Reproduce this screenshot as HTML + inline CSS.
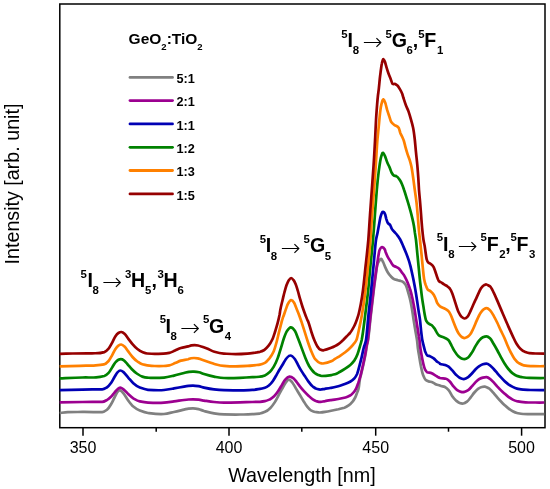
<!DOCTYPE html>
<html><head><meta charset="utf-8"><title>PL spectra</title>
<style>html,body{margin:0;padding:0;background:#fff;}svg{display:block;}text{font-family:"Liberation Sans",Arial,sans-serif;fill:#000;}.b{font-weight:bold;}.ar{font-family:"DejaVu Sans Light","DejaVu Sans","Liberation Sans",sans-serif;font-weight:200;}</style></head><body>
<svg width="550" height="489" viewBox="0 0 550 489">
<rect width="550" height="489" fill="#fff"/>
<rect x="59.8" y="4" width="485.2" height="423.7" fill="none" stroke="#000" stroke-width="1.5"/>
<g fill="none" stroke-width="2.7" stroke-linejoin="round" stroke-linecap="butt">
<path stroke="#808080" d="M59.7,413.0C62.4,412.7 65.1,412.3 67.8,412.2C72.7,412.0 77.6,412.0 82.5,411.9C89.1,411.8 95.6,412.2 102.2,412.2C103.8,412.2 105.5,410.9 107.1,409.7C108.5,408.7 109.8,406.3 111.2,404.0C112.3,402.2 113.4,399.6 114.5,397.5C115.6,395.5 116.6,393.0 117.7,391.7C118.4,390.8 119.2,389.9 119.9,390.1C121.1,390.4 122.3,391.9 123.5,393.4C125.1,395.4 126.8,398.5 128.4,400.7C130.0,402.9 131.7,405.2 133.3,406.5C135.5,408.3 137.6,409.8 139.8,410.6C142.5,411.6 145.3,412.6 148.0,413.0C153.3,413.7 158.7,414.5 164.0,414.0C167.3,413.7 170.7,412.7 174.0,412.0C177.3,411.3 180.7,410.4 184.0,409.6C185.5,409.3 187.0,408.8 188.5,408.6C190.0,408.4 191.5,408.4 193.0,408.4C194.8,408.4 196.7,408.7 198.5,409.1C200.3,409.5 202.2,410.5 204.0,411.0C207.3,411.9 210.7,412.9 214.0,413.4C217.3,413.9 220.7,414.3 224.0,414.4C229.3,414.5 234.7,414.6 240.0,414.5C244.1,414.5 248.2,414.3 252.3,414.2C254.9,414.1 257.4,413.8 260.0,413.5C261.8,413.3 263.7,412.4 265.5,411.6C267.1,410.9 268.8,409.4 270.4,407.9C271.8,406.6 273.3,404.6 274.7,402.4C275.9,400.5 277.2,398.0 278.4,395.7C279.6,393.4 280.9,391.1 282.1,388.9C283.2,386.9 284.4,384.6 285.5,383.0C286.6,381.5 287.7,379.8 288.8,379.7C290.0,379.6 291.3,381.2 292.5,382.8C293.7,384.4 295.0,386.9 296.2,388.9C297.4,390.9 298.7,393.0 299.9,395.0C301.1,397.0 302.4,399.2 303.6,401.2C304.8,403.1 306.0,405.2 307.2,406.7C308.4,408.2 309.7,409.8 310.9,410.4C312.3,411.1 313.8,411.8 315.2,412.0C316.8,412.2 318.4,412.6 320.0,412.5C321.7,412.4 323.3,412.2 325.0,411.9C327.0,411.6 329.1,411.2 331.1,410.8C333.5,410.3 335.9,409.8 338.3,409.3C340.3,408.8 342.4,408.3 344.4,407.7C345.9,407.2 347.5,406.2 349.0,405.2C350.2,404.4 351.4,403.0 352.6,401.6C353.5,400.6 354.3,399.2 355.2,397.5C355.9,396.2 356.5,394.1 357.2,392.4C357.6,391.3 358.1,390.6 358.5,389.0C359.0,387.2 359.5,380.9 360.0,378.5C360.3,376.9 360.7,376.2 361.0,374.8C361.8,371.5 362.6,368.1 363.4,364.5C364.1,361.3 364.8,358.1 365.5,354.3C366.0,351.6 366.5,347.9 367.0,345.1C367.4,343.1 367.7,342.4 368.1,340.0C369.0,334.1 369.9,323.5 370.8,315.6C371.8,306.8 372.8,298.0 373.8,290.0C374.4,285.0 375.1,280.3 375.7,275.8C376.2,272.0 376.8,266.9 377.3,265.0C377.8,263.2 378.3,262.2 378.8,261.5C379.6,260.4 380.3,258.7 381.1,258.9C381.8,259.1 382.4,260.7 383.1,262.0C383.8,263.4 384.5,265.5 385.2,267.1C386.0,268.9 386.9,270.9 387.7,272.2C388.7,273.8 389.8,275.3 390.8,276.3C391.8,277.3 392.9,278.5 393.9,278.9C395.2,279.5 396.6,279.8 397.9,280.2C398.9,280.5 400.0,280.7 401.0,281.0C401.4,281.1 401.8,281.2 402.2,281.4C403.0,281.7 403.9,282.6 404.7,283.5C405.2,284.0 405.7,284.9 406.2,286.0C406.6,286.9 407.1,288.6 407.5,290.0C408.3,292.5 409.0,295.1 409.8,298.2C410.5,301.0 411.2,304.4 411.9,308.4C412.4,311.3 412.9,315.4 413.4,318.6C413.9,321.8 414.4,324.8 414.9,327.8C415.4,331.0 416.0,333.9 416.5,337.0C416.7,338.0 416.8,338.8 417.0,340.0C417.3,342.1 417.6,346.0 417.9,348.2C418.4,351.8 418.9,354.5 419.4,357.4C419.9,360.5 420.5,364.0 421.0,366.6C421.7,369.8 422.3,373.1 423.0,374.8C423.9,377.0 424.7,379.3 425.6,379.9C426.6,380.6 427.6,381.1 428.6,381.4C430.0,381.8 431.3,381.9 432.7,382.4C433.9,382.9 435.1,383.9 436.3,384.5C437.5,385.1 438.7,384.9 439.9,385.5C439.9,385.5 440.0,385.6 440.0,385.6C441.6,386.6 443.3,386.2 444.9,387.0C446.1,387.6 447.4,388.7 448.6,390.1C449.8,391.5 451.1,394.5 452.3,396.2C453.5,397.9 454.8,399.4 456.0,400.5C457.2,401.5 458.4,402.6 459.6,403.0C460.8,403.4 462.1,403.6 463.3,403.5C464.5,403.4 465.8,402.6 467.0,401.7C468.2,400.8 469.5,398.9 470.7,397.4C471.9,395.9 473.2,393.9 474.4,392.5C475.6,391.1 476.8,389.7 478.0,388.9C479.2,388.1 480.5,387.3 481.7,387.0C482.7,386.7 483.8,386.5 484.8,386.6C486.0,386.8 487.3,387.6 488.5,388.2C489.0,388.5 489.5,388.8 490.0,389.2C491.2,390.2 492.5,391.8 493.7,393.2C494.9,394.6 496.2,396.2 497.4,397.6C498.6,399.0 499.8,400.3 501.0,401.5C502.2,402.8 503.5,404.1 504.7,405.2C505.9,406.3 507.2,407.5 508.4,408.4C509.8,409.5 511.3,410.6 512.7,411.3C514.1,412.0 515.6,412.7 517.0,413.0C519.0,413.4 521.1,413.9 523.1,414.0C525.6,414.1 528.0,414.2 530.5,414.2C535.1,414.2 539.7,414.2 544.3,414.2"/>
<path stroke="#9c0090" d="M59.7,402.4C67.3,402.2 74.9,402.1 82.5,402.0C89.1,401.9 95.6,402.0 102.2,401.9C103.8,401.9 105.5,400.8 107.1,399.9C108.5,399.2 109.8,397.9 111.2,396.6C112.3,395.5 113.4,393.9 114.5,392.6C115.6,391.4 116.6,389.9 117.7,389.0C118.5,388.3 119.4,387.6 120.2,387.6C121.3,387.6 122.4,388.5 123.5,389.3C125.1,390.5 126.8,392.7 128.4,394.2C130.0,395.7 131.7,397.3 133.3,398.3C135.5,399.6 137.6,401.0 139.8,401.4C142.5,402.0 145.3,402.5 148.0,402.6C153.3,402.8 158.7,403.0 164.0,402.6C167.3,402.4 170.7,401.8 174.0,401.4C177.3,401.0 180.7,400.4 184.0,400.0C185.5,399.8 187.0,399.6 188.5,399.5C190.0,399.4 191.5,399.4 193.0,399.4C194.8,399.4 196.7,399.5 198.5,399.7C200.3,399.9 202.2,400.3 204.0,400.6C207.3,401.1 210.7,401.7 214.0,402.0C217.3,402.3 220.7,402.6 224.0,402.6C229.3,402.6 234.7,402.5 240.0,402.4C244.1,402.3 248.2,402.1 252.3,402.0C254.9,401.9 257.4,401.9 260.0,401.8C261.6,401.7 263.3,401.5 264.9,401.2C266.5,400.9 268.2,400.1 269.8,399.4C271.2,398.8 272.7,397.6 274.1,396.3C275.5,395.0 277.0,392.9 278.4,390.8C279.6,389.0 280.9,386.6 282.1,384.6C283.1,382.9 284.2,380.8 285.2,379.7C286.5,378.2 287.9,376.8 289.2,376.7C290.7,376.5 292.2,377.3 293.7,378.5C294.7,379.3 295.8,380.9 296.8,382.2C298.0,383.8 299.3,385.6 300.5,387.1C301.7,388.6 303.0,390.1 304.2,391.4C305.6,392.9 307.1,394.4 308.5,395.7C309.9,397.0 311.4,398.5 312.8,399.4C314.0,400.2 315.2,400.9 316.4,401.2C317.9,401.6 319.3,402.1 320.8,401.9C322.2,401.7 323.6,401.3 325.0,401.1C327.0,400.7 329.1,400.4 331.1,400.1C333.5,399.7 335.9,399.4 338.3,399.0C340.7,398.6 343.1,398.1 345.5,397.5C347.0,397.1 348.6,396.3 350.1,395.5C351.3,394.9 352.4,393.6 353.6,392.4C354.5,391.5 355.3,390.0 356.2,388.3C356.9,387.0 357.5,385.1 358.2,383.2C358.7,381.7 359.3,379.9 359.8,378.1C360.1,377.1 360.4,376.0 360.7,374.8C361.5,371.7 362.3,368.1 363.1,364.5C363.8,361.3 364.5,358.1 365.2,354.3C365.7,351.6 366.2,347.9 366.7,345.1C367.1,343.1 367.4,342.4 367.8,340.0C368.7,334.1 369.6,323.5 370.5,315.6C371.5,306.8 372.5,298.0 373.5,290.0C374.1,285.0 374.8,280.3 375.4,275.8C375.9,272.0 376.5,268.6 377.0,265.0C377.3,262.8 377.7,260.4 378.0,258.4C378.5,255.4 379.0,251.3 379.5,250.2C380.4,248.3 381.2,247.1 382.1,247.2C383.0,247.3 383.8,247.8 384.7,249.2C385.0,249.7 385.4,251.4 385.7,252.3C386.4,254.0 387.0,255.7 387.7,256.9C388.6,258.5 389.4,259.7 390.3,261.0C391.3,262.6 392.3,264.8 393.3,265.6C394.2,266.3 395.0,266.3 395.9,266.8C396.9,267.3 398.0,267.7 399.0,268.6C400.0,269.4 401.0,271.4 402.0,272.7C402.6,273.4 403.1,274.0 403.7,274.8C404.4,275.8 405.0,277.0 405.7,278.3C406.4,279.6 407.1,281.2 407.8,282.9C408.3,284.1 408.8,285.6 409.3,287.0C409.6,287.9 410.0,288.9 410.3,290.0C411.0,292.3 411.7,295.1 412.4,298.2C413.1,301.1 413.7,304.6 414.4,308.4C414.9,311.4 415.5,315.3 416.0,318.6C416.5,321.7 417.0,324.7 417.5,327.8C418.0,330.9 418.5,334.0 419.0,337.0C419.2,338.0 419.3,338.8 419.5,340.0C419.8,342.1 420.1,346.1 420.4,348.2C420.9,351.9 421.5,354.7 422.0,357.4C422.5,359.9 423.0,362.6 423.5,364.5C424.0,366.6 424.6,368.8 425.1,369.7C425.8,370.9 426.4,371.9 427.1,372.2C428.6,372.8 430.2,372.5 431.7,373.2C432.9,373.8 434.1,374.6 435.3,375.3C436.3,375.9 437.3,376.8 438.3,377.3C438.9,377.6 439.4,377.8 440.0,378.0C442.0,378.6 444.1,378.2 446.1,378.8C447.3,379.1 448.6,380.3 449.8,381.5C451.0,382.7 452.3,385.0 453.5,386.4C454.7,387.8 456.0,389.3 457.2,390.1C458.4,390.9 459.7,391.7 460.9,391.9C462.1,392.1 463.3,392.1 464.5,391.9C465.7,391.7 467.0,390.9 468.2,390.1C469.4,389.3 470.7,387.7 471.9,386.4C473.1,385.1 474.4,383.3 475.6,382.1C476.8,380.9 478.1,379.6 479.3,379.0C480.5,378.4 481.7,377.9 482.9,377.6C484.1,377.3 485.4,377.0 486.6,377.1C487.7,377.2 488.9,378.0 490.0,378.8C491.2,379.6 492.5,381.0 493.7,382.3C494.9,383.6 496.2,385.2 497.4,386.6C498.6,387.9 499.8,389.2 501.0,390.4C502.2,391.6 503.5,392.6 504.7,393.7C505.9,394.8 507.2,396.0 508.4,396.9C509.8,398.0 511.3,398.9 512.7,399.6C514.1,400.3 515.6,400.9 517.0,401.2C519.0,401.6 521.1,402.1 523.1,402.2C525.6,402.3 528.0,402.5 530.5,402.5C535.1,402.5 539.7,402.6 544.3,402.5"/>
<path stroke="#0000b4" d="M59.7,390.1C67.3,389.9 74.9,389.8 82.5,389.6C89.1,389.5 95.6,389.4 102.2,389.3C103.8,389.3 105.5,388.2 107.1,387.3C108.5,386.5 109.8,384.6 111.2,382.7C112.3,381.2 113.4,378.8 114.5,377.0C115.6,375.3 116.6,373.2 117.7,372.1C118.5,371.3 119.4,370.5 120.2,370.5C121.3,370.5 122.4,371.2 123.5,372.1C125.1,373.4 126.8,376.0 128.4,377.8C130.0,379.6 131.7,381.8 133.3,383.2C135.5,385.1 137.6,386.8 139.8,387.6C142.5,388.6 145.3,389.6 148.0,389.8C153.3,390.2 158.7,390.6 164.0,390.0C167.3,389.7 170.7,389.0 174.0,388.4C177.3,387.8 180.7,387.2 184.0,386.6C185.5,386.3 187.0,386.0 188.5,385.8C190.0,385.6 191.5,385.6 193.0,385.6C194.8,385.6 196.7,385.9 198.5,386.2C200.3,386.5 202.2,387.2 204.0,387.6C207.3,388.3 210.7,389.0 214.0,389.4C217.3,389.8 220.7,390.1 224.0,390.2C229.3,390.3 234.7,390.4 240.0,390.4C244.1,390.4 248.2,390.1 252.3,389.9C254.9,389.8 257.4,389.3 260.0,388.9C261.6,388.7 263.3,388.2 264.9,387.7C266.3,387.3 267.8,386.3 269.2,385.2C270.4,384.3 271.7,382.7 272.9,381.0C274.1,379.3 275.4,376.9 276.6,374.8C277.6,373.1 278.6,371.2 279.6,369.5C280.6,367.8 281.7,366.2 282.7,364.5C283.7,362.8 284.8,360.5 285.8,359.2C287.2,357.4 288.7,355.6 290.1,355.5C291.7,355.3 293.4,357.1 295.0,359.2C296.0,360.5 297.0,363.0 298.0,364.8C299.1,366.9 300.3,369.1 301.4,370.9C302.5,372.7 303.7,374.3 304.8,376.0C306.0,377.9 307.3,380.0 308.5,381.6C309.9,383.5 311.4,385.4 312.8,386.5C314.0,387.4 315.2,388.4 316.4,388.7C317.9,389.1 319.3,389.7 320.8,389.5C322.2,389.3 323.6,389.0 325.0,388.8C327.0,388.5 329.1,388.2 331.1,387.8C333.5,387.4 335.9,386.8 338.3,386.2C340.7,385.6 343.1,384.6 345.5,383.7C347.2,383.1 348.8,382.4 350.5,381.5C351.8,380.8 353.2,379.5 354.5,378.2C355.4,377.4 356.2,375.9 357.1,374.0C357.9,372.2 358.7,368.6 359.5,365.6C360.2,363.0 360.9,360.3 361.6,357.4C362.3,354.6 362.9,351.1 363.6,348.2C364.4,344.8 365.2,344.5 366.0,340.0C366.8,335.5 367.6,323.3 368.4,315.6C369.3,306.6 370.3,299.1 371.2,290.0C372.0,282.2 372.8,273.3 373.6,265.0C374.4,256.7 375.2,245.4 376.0,240.0C376.5,236.6 377.0,235.6 377.5,233.0C378.0,230.4 378.5,227.5 379.0,224.8C379.5,222.0 380.1,218.4 380.6,216.6C381.3,214.3 381.9,212.4 382.6,212.0C383.5,211.5 384.3,212.4 385.2,214.5C385.5,215.3 385.9,217.5 386.2,218.6C386.7,220.2 387.2,221.9 387.7,222.7C388.6,224.2 389.4,223.8 390.3,225.3C390.8,226.2 391.3,228.1 391.8,228.9C392.5,230.0 393.2,230.6 393.9,231.4C394.9,232.6 396.0,233.5 397.0,234.8C398.1,236.1 399.1,237.6 400.2,239.5C401.2,241.3 402.2,243.8 403.2,246.1C404.2,248.4 405.2,250.8 406.2,253.3C407.1,255.5 407.9,257.8 408.8,260.4C409.5,262.4 410.1,264.9 410.8,267.6C411.3,269.7 411.9,272.3 412.4,274.8C412.9,277.1 413.4,279.4 413.9,281.9C414.4,284.4 414.9,287.1 415.4,290.0C415.9,293.1 416.5,296.7 417.0,300.2C417.5,303.5 418.0,307.1 418.5,310.4C419.0,314.0 419.6,316.5 420.1,320.7C420.4,323.3 420.8,328.0 421.1,330.9C421.5,334.4 421.9,337.9 422.3,340.0C422.7,342.1 423.1,343.5 423.5,345.1C424.0,347.2 424.6,349.7 425.1,351.2C425.8,353.0 426.4,354.9 427.1,355.3C428.1,355.9 429.2,355.9 430.2,356.4C431.4,357.0 432.5,357.6 433.7,358.4C434.7,359.2 435.8,360.5 436.8,361.5C437.8,362.5 438.9,362.3 439.9,363.5C439.9,363.5 440.0,363.8 440.0,363.8C441.6,364.8 443.3,364.2 444.9,364.9C446.1,365.4 447.4,365.9 448.6,366.7C449.8,367.5 451.1,369.1 452.3,370.4C453.5,371.7 454.8,373.5 456.0,374.7C457.2,375.9 458.4,377.2 459.6,377.8C461.0,378.5 462.5,379.2 463.9,379.1C465.3,379.0 466.8,378.1 468.2,377.1C469.4,376.3 470.7,374.8 471.9,373.5C473.1,372.2 474.4,370.4 475.6,369.2C476.8,368.0 478.1,366.9 479.3,366.1C480.5,365.4 481.7,364.7 482.9,364.3C484.1,363.9 485.2,363.7 486.4,363.7C487.6,363.7 488.8,364.5 490.0,365.3C491.2,366.1 492.5,367.7 493.7,369.0C494.9,370.3 496.2,371.9 497.4,373.3C498.6,374.7 499.8,376.0 501.0,377.3C502.2,378.6 503.5,380.0 504.7,381.2C505.9,382.4 507.2,383.4 508.4,384.3C509.8,385.3 511.3,386.2 512.7,386.9C514.1,387.6 515.6,388.3 517.0,388.6C519.0,389.0 521.1,389.5 523.1,389.6C525.6,389.8 528.0,390.0 530.5,390.0C535.1,390.1 539.7,390.2 544.3,390.1"/>
<path stroke="#008200" d="M59.7,378.3C67.3,378.0 74.9,377.6 82.5,377.5C85.7,377.4 88.8,377.5 92.0,377.5C94.0,377.5 96.1,377.3 98.1,377.2C100.2,377.1 102.2,376.5 104.3,376.0C105.7,375.6 107.2,374.4 108.6,372.9C109.8,371.7 111.0,369.3 112.2,367.4C113.2,365.8 114.3,363.7 115.3,362.5C116.3,361.3 117.4,360.3 118.4,359.8C119.2,359.4 120.0,359.1 120.8,359.1C121.8,359.1 122.9,359.6 123.9,360.3C125.1,361.1 126.4,362.9 127.6,364.3C129.0,365.9 130.5,367.8 131.9,369.2C133.5,370.8 135.2,372.4 136.8,373.5C138.6,374.7 140.5,376.1 142.3,376.6C143.9,377.1 145.6,377.5 147.2,377.6C148.8,377.7 150.4,377.9 152.0,377.9C156.0,378.0 160.0,377.9 164.0,377.6C167.3,377.4 170.7,376.4 174.0,375.6C177.3,374.8 180.7,373.8 184.0,373.0C185.7,372.6 187.3,372.0 189.0,371.8C190.7,371.6 192.3,371.5 194.0,371.6C195.7,371.7 197.3,371.9 199.0,372.3C200.7,372.7 202.3,373.5 204.0,374.0C207.3,375.0 210.7,376.0 214.0,376.6C217.3,377.2 220.7,378.0 224.0,378.0C229.3,378.1 234.7,378.0 240.0,377.8C244.1,377.6 248.2,377.4 252.3,377.2C254.9,377.1 257.4,376.9 260.0,376.7C261.6,376.6 263.3,376.0 264.9,375.4C266.5,374.8 268.2,373.3 269.8,371.9C271.1,370.7 272.5,368.7 273.8,366.6C275.1,364.5 276.5,361.4 277.8,357.9C278.8,355.2 279.9,351.4 280.9,348.1C281.9,344.9 282.9,341.1 283.9,338.3C284.9,335.4 286.0,332.5 287.0,331.0C288.2,329.2 289.5,327.4 290.7,327.3C292.1,327.2 293.6,328.8 295.0,331.0C296.0,332.5 297.0,335.7 298.0,338.3C299.2,341.4 300.5,344.8 301.7,348.1C302.9,351.4 304.2,354.9 305.4,357.9C306.6,360.9 307.9,363.9 309.1,366.0C310.2,367.8 311.2,369.3 312.3,370.5C313.1,371.4 314.0,372.4 314.8,373.0C315.8,373.7 316.7,374.4 317.7,374.8C319.0,375.3 320.4,376.0 321.7,376.0C325.1,376.0 328.4,375.5 331.8,375.0C332.9,374.8 333.9,374.6 335.0,374.3C336.7,373.8 338.4,372.6 340.1,371.7C341.8,370.8 343.5,369.7 345.2,368.6C346.9,367.5 348.6,366.4 350.3,365.0C351.7,363.9 353.0,362.2 354.4,360.4C355.4,359.0 356.5,356.9 357.5,354.3C358.3,352.2 359.2,348.9 360.0,346.1C360.6,344.2 361.1,342.6 361.7,340.0C362.8,334.7 364.0,324.3 365.1,315.6C366.1,307.7 367.2,299.7 368.2,290.0C369.0,282.8 369.7,273.0 370.5,265.0C371.3,256.3 372.2,249.5 373.0,240.0C373.6,232.7 374.3,223.3 374.9,215.0C375.5,206.7 376.2,197.3 376.8,190.0C377.3,184.6 377.7,179.8 378.2,175.8C378.6,172.4 379.0,169.2 379.4,166.6C379.9,163.1 380.5,159.2 381.0,157.4C381.7,155.1 382.3,152.5 383.0,152.8C383.7,153.1 384.4,154.8 385.1,156.4C385.8,158.0 386.4,160.4 387.1,162.0C388.0,164.1 388.8,165.6 389.7,167.6C390.4,169.2 391.0,171.5 391.7,172.7C392.4,173.9 393.0,174.8 393.7,175.3C394.7,176.0 395.8,175.8 396.8,176.5C397.7,177.1 398.5,178.2 399.4,179.4C400.2,180.5 401.1,182.2 401.9,184.0C402.6,185.6 403.4,187.8 404.1,190.0C405.2,193.1 406.2,196.7 407.3,200.2C408.3,203.5 409.3,206.8 410.3,210.4C411.0,212.9 411.7,215.7 412.4,218.6C412.9,220.7 413.4,222.9 413.9,225.8C414.2,227.7 414.6,230.6 414.9,232.9C415.3,235.4 415.6,237.1 416.0,240.0C416.3,242.7 416.7,246.8 417.0,250.2C417.3,253.6 417.7,257.0 418.0,260.4C418.3,263.8 418.7,267.3 419.0,270.7C419.3,274.1 419.7,277.9 420.0,280.9C420.4,284.2 420.7,287.0 421.1,290.0C421.4,292.7 421.8,295.8 422.1,298.2C422.5,301.3 423.0,303.7 423.4,306.4C423.8,309.1 424.3,312.3 424.7,314.5C425.2,317.1 425.7,319.9 426.2,320.7C427.1,322.1 427.9,323.1 428.8,323.7C429.8,324.4 430.8,324.5 431.8,325.3C432.7,326.0 433.5,327.1 434.4,328.3C435.1,329.3 435.7,330.8 436.4,331.9C437.1,333.0 437.8,334.4 438.5,335.0C439.0,335.5 439.5,335.8 440.0,336.0C441.6,336.8 443.3,337.2 444.9,337.9C446.1,338.5 447.4,339.1 448.6,340.3C449.6,341.3 450.7,344.0 451.7,345.9C452.7,347.7 453.7,349.8 454.7,351.4C455.9,353.3 457.2,355.2 458.4,356.3C459.4,357.2 460.5,358.1 461.5,358.5C462.5,358.9 463.5,359.2 464.5,359.2C465.7,359.2 467.0,358.4 468.2,357.5C469.4,356.6 470.7,354.5 471.9,352.6C473.1,350.7 474.4,347.9 475.6,345.9C476.8,343.9 478.1,341.6 479.3,340.3C480.5,339.0 481.7,337.9 482.9,337.3C484.1,336.7 485.4,336.3 486.6,336.3C487.7,336.3 488.9,337.3 490.0,338.3C491.2,339.4 492.5,342.0 493.7,344.0C494.9,346.0 496.2,348.3 497.4,350.5C498.6,352.7 499.8,355.1 501.0,357.3C502.2,359.5 503.5,361.9 504.7,363.8C505.9,365.7 507.2,367.6 508.4,369.0C509.8,370.7 511.3,372.4 512.7,373.4C514.1,374.4 515.6,375.4 517.0,375.9C518.6,376.4 520.3,377.0 521.9,377.2C524.4,377.5 526.8,377.8 529.3,377.9C534.3,378.0 539.3,378.1 544.3,378.0"/>
<path stroke="#ff8000" d="M59.7,366.3C66.5,366.1 73.2,366.0 80.0,365.8C84.0,365.7 88.0,365.7 92.0,365.6C94.0,365.6 96.1,365.3 98.1,365.2C100.2,365.1 102.2,364.7 104.3,364.3C105.7,364.0 107.2,362.5 108.6,361.0C109.8,359.7 111.0,357.2 112.2,355.1C113.2,353.3 114.3,350.7 115.3,349.2C116.3,347.7 117.4,346.3 118.4,345.6C119.3,345.0 120.3,344.4 121.2,344.5C122.3,344.6 123.4,345.5 124.5,346.5C125.7,347.6 127.0,349.8 128.2,351.4C129.6,353.3 131.1,355.4 132.5,357.0C134.1,358.8 135.8,360.4 137.4,361.5C139.0,362.6 140.7,363.9 142.3,364.3C143.9,364.7 145.6,365.1 147.2,365.3C149.7,365.6 152.2,365.9 154.7,366.0C157.6,366.1 160.6,366.1 163.5,366.0C165.4,366.0 167.4,365.7 169.3,365.4C171.2,365.1 173.2,363.9 175.1,363.1C177.0,362.3 179.0,361.2 180.9,360.6C183.3,359.9 185.8,359.8 188.2,359.2C189.2,358.9 190.1,358.5 191.1,358.3C192.1,358.1 193.0,358.0 194.0,358.0C195.2,358.0 196.5,358.1 197.7,358.3C198.9,358.5 200.1,359.1 201.3,359.5C204.2,360.5 207.1,361.5 210.0,362.5C211.5,363.0 212.9,363.6 214.4,364.0C217.5,364.8 220.7,365.7 223.8,365.9C227.7,366.2 231.7,366.5 235.6,366.4C239.5,366.3 243.5,366.1 247.4,365.9C250.5,365.7 253.7,365.3 256.8,365.0C257.9,364.9 258.9,364.8 260.0,364.6C261.6,364.4 263.3,363.7 264.9,362.9C266.5,362.1 268.2,359.8 269.8,357.9C271.0,356.4 272.3,354.4 273.5,351.8C274.5,349.6 275.6,345.7 276.6,342.0C277.4,339.1 278.2,335.4 279.0,332.2C279.8,328.9 280.7,325.5 281.5,322.4C281.9,321.0 282.2,319.6 282.6,318.5C283.0,317.2 283.5,316.2 283.9,315.0C284.6,313.0 285.3,310.8 286.0,308.9C286.7,307.1 287.3,304.9 288.0,303.7C289.0,301.9 290.1,300.3 291.1,300.2C292.1,300.1 293.1,301.1 294.1,302.7C294.8,303.8 295.5,306.1 296.2,307.8C297.0,309.8 297.9,311.8 298.7,314.0C299.3,315.6 299.9,317.3 300.5,319.0C300.9,320.1 301.3,321.2 301.7,322.4C302.7,325.5 303.8,328.9 304.8,332.2C305.8,335.5 306.9,339.0 307.9,342.0C309.1,345.5 310.3,349.0 311.5,351.8C312.7,354.7 314.0,357.8 315.2,359.2C316.8,361.0 318.4,362.6 320.0,363.0C321.0,363.3 322.0,363.6 323.0,363.5C325.9,363.2 328.9,362.3 331.8,361.0C332.9,360.5 333.9,359.6 335.0,358.9C336.7,357.8 338.4,356.9 340.1,355.8C341.8,354.7 343.5,353.6 345.2,352.3C346.9,351.0 348.6,349.4 350.3,347.7C351.7,346.4 353.0,344.7 354.4,343.1C355.1,342.3 355.7,341.5 356.4,340.0C357.4,337.9 358.3,332.3 359.3,328.0C360.1,324.3 361.0,320.3 361.8,315.6C363.0,308.7 364.3,299.9 365.5,290.0C366.4,283.1 367.2,273.8 368.1,265.0C368.9,257.2 369.6,249.6 370.4,240.0C371.0,232.9 371.5,222.9 372.1,215.0C372.7,206.2 373.4,198.6 374.0,190.0C374.6,181.9 375.2,173.8 375.8,165.0C376.3,157.2 376.9,146.5 377.4,140.0C377.6,137.1 377.9,135.3 378.1,132.9C378.4,129.5 378.8,126.1 379.1,122.7C379.4,119.3 379.8,115.1 380.1,112.4C380.5,108.9 381.0,105.8 381.4,104.3C382.1,102.0 382.7,99.2 383.4,99.4C384.1,99.6 384.7,101.3 385.4,103.2C385.9,104.8 386.5,107.6 387.0,109.4C387.7,111.6 388.3,113.5 389.0,115.5C389.7,117.6 390.4,120.6 391.1,121.7C392.1,123.2 393.1,123.9 394.1,124.7C395.6,126.0 397.2,125.9 398.7,127.8C399.2,128.5 399.8,131.6 400.3,132.9C401.0,134.6 401.6,135.5 402.3,137.0C402.8,138.2 403.4,139.4 403.9,141.0C404.3,142.3 404.8,144.5 405.2,146.1C405.9,148.7 406.6,151.1 407.3,153.3C408.1,155.9 409.0,157.7 409.8,160.4C410.3,162.1 410.9,164.1 411.4,166.6C411.8,168.4 412.2,171.1 412.6,173.7C412.9,175.9 413.3,178.4 413.6,180.9C414.0,183.9 414.4,187.0 414.8,190.0C415.4,194.2 415.9,197.5 416.5,202.3C416.9,205.7 417.3,210.4 417.7,215.0C418.0,218.9 418.4,224.2 418.7,227.8C419.1,232.5 419.6,236.0 420.0,240.0C420.4,243.4 420.7,246.6 421.1,250.2C421.4,253.4 421.8,257.0 422.1,260.4C422.4,263.8 422.8,267.6 423.1,270.7C423.4,273.8 423.8,277.2 424.1,278.9C424.6,281.6 425.2,283.6 425.7,285.0C426.4,286.7 427.0,288.8 427.7,289.5C428.7,290.5 429.8,290.6 430.8,291.5C431.6,292.2 432.5,293.0 433.3,294.1C434.0,295.0 434.7,296.7 435.4,298.2C436.1,299.7 436.7,302.2 437.4,303.3C438.3,304.7 439.1,305.8 440.0,306.3C441.6,307.3 443.3,307.8 444.9,308.7C446.1,309.4 447.4,310.1 448.6,311.2C449.4,311.9 450.2,313.8 451.0,315.5C451.8,317.3 452.7,319.9 453.5,322.0C454.5,324.6 455.6,327.4 456.6,329.6C457.4,331.3 458.2,332.9 459.0,334.0C459.9,335.2 460.9,336.5 461.8,337.0C462.7,337.5 463.6,338.1 464.5,338.1C465.4,338.1 466.4,337.5 467.3,337.0C468.2,336.5 469.2,335.6 470.1,334.5C471.1,333.3 472.1,331.1 473.1,329.0C474.3,326.4 475.6,323.1 476.8,320.4C478.0,317.7 479.3,314.8 480.5,313.0C481.5,311.5 482.6,310.1 483.6,309.4C484.6,308.8 485.6,308.2 486.6,308.2C487.7,308.2 488.9,309.2 490.0,310.2C491.2,311.3 492.5,313.7 493.7,315.8C494.9,317.9 496.2,320.5 497.4,323.0C498.6,325.5 499.8,328.4 501.0,330.9C502.0,333.0 503.0,334.8 504.0,337.0C505.1,339.4 506.1,342.3 507.2,344.7C508.4,347.5 509.7,350.4 510.9,352.7C512.1,355.0 513.3,357.3 514.5,358.8C515.9,360.6 517.4,362.3 518.8,363.1C520.4,364.0 522.1,365.0 523.7,365.3C526.0,365.7 528.2,366.0 530.5,366.1C535.1,366.2 539.7,366.4 544.3,366.2"/>
<path stroke="#960000" d="M59.7,353.8C64.0,353.7 68.2,353.6 72.5,353.5C77.4,353.4 82.2,353.3 87.1,353.3C88.7,353.3 90.4,353.3 92.0,353.3C94.0,353.3 96.1,353.2 98.1,353.2C100.2,353.2 102.2,352.6 104.3,352.1C105.7,351.7 107.2,350.2 108.6,348.6C109.8,347.3 111.0,344.8 112.2,342.6C113.2,340.7 114.3,337.9 115.3,336.4C116.3,334.9 117.4,333.6 118.4,333.0C119.4,332.4 120.4,331.9 121.4,332.0C122.4,332.1 123.5,332.9 124.5,333.8C125.7,334.9 127.0,337.0 128.2,338.6C129.6,340.4 131.1,342.5 132.5,344.1C134.1,346.0 135.8,347.7 137.4,349.0C139.0,350.3 140.7,351.5 142.3,352.1C143.9,352.7 145.6,353.4 147.2,353.5C149.7,353.7 152.2,353.9 154.7,353.9C157.6,353.9 160.6,353.8 163.5,353.7C165.4,353.6 167.4,353.3 169.3,352.9C171.2,352.5 173.2,351.3 175.1,350.5C177.0,349.7 179.0,348.6 180.9,348.0C183.3,347.2 185.8,347.1 188.2,346.4C189.3,346.1 190.3,345.6 191.4,345.4C192.5,345.2 193.6,345.1 194.7,345.1C195.8,345.1 196.9,345.3 198.0,345.5C199.1,345.7 200.2,346.1 201.3,346.5C203.2,347.1 205.1,347.8 207.0,348.5C209.5,349.5 211.9,351.1 214.4,351.8C217.5,352.7 220.7,353.4 223.8,353.6C227.7,353.8 231.7,354.1 235.6,354.1C239.5,354.1 243.5,353.9 247.4,353.6C250.5,353.4 253.7,352.8 256.8,352.4C257.9,352.2 258.9,352.0 260.0,351.8C261.4,351.5 262.9,350.8 264.3,350.0C265.7,349.2 267.2,347.4 268.6,345.7C269.8,344.2 271.1,342.1 272.3,339.5C273.3,337.4 274.3,334.1 275.3,331.0C276.1,328.4 277.0,325.5 277.8,322.4C278.4,320.1 279.0,317.6 279.6,314.5C279.8,313.3 280.1,311.1 280.3,309.9C281.0,306.3 281.7,303.6 282.4,300.7C283.1,297.9 283.7,295.0 284.4,292.5C285.1,289.9 285.8,287.2 286.5,285.3C287.2,283.5 287.8,281.7 288.5,280.7C289.4,279.4 290.2,278.0 291.1,278.0C291.9,278.0 292.8,279.1 293.6,280.2C294.3,281.1 295.0,282.6 295.7,284.3C296.4,285.9 297.0,288.2 297.7,290.4C298.6,293.3 299.4,296.8 300.3,299.7C301.1,302.5 302.0,305.3 302.8,307.8C303.7,310.4 304.5,312.7 305.4,315.0C306.1,316.7 306.7,318.4 307.4,320.0C307.8,320.9 308.1,321.4 308.5,322.4C309.5,325.0 310.5,329.2 311.5,332.2C312.5,335.3 313.6,338.4 314.6,340.8C315.6,343.2 316.7,345.4 317.7,346.9C318.5,348.0 319.2,349.2 320.0,349.5C321.2,350.0 322.3,350.5 323.5,350.3C326.3,349.7 329.0,348.6 331.8,347.5C332.9,347.1 333.9,346.6 335.0,346.1C336.4,345.4 337.7,344.6 339.1,343.6C340.5,342.6 341.8,341.3 343.2,340.0C344.3,338.9 345.4,337.6 346.5,336.5C347.7,335.3 348.8,334.4 350.0,333.0C351.3,331.4 352.7,329.0 354.0,326.5C355.4,323.9 356.8,320.0 358.2,315.6C359.1,312.9 359.9,308.4 360.8,304.0C361.5,300.3 362.3,295.6 363.0,290.0C363.9,283.2 364.8,273.5 365.7,265.0C366.6,256.9 367.4,250.1 368.3,240.0C368.9,233.4 369.4,223.1 370.0,215.0C370.6,206.4 371.2,198.3 371.8,190.0C372.4,181.7 373.0,174.1 373.6,165.0C374.1,157.9 374.5,149.6 375.0,141.0C375.4,133.6 375.8,123.2 376.2,117.0C376.8,108.2 377.3,101.3 377.9,96.0C378.2,93.2 378.5,91.7 378.8,88.9C379.1,85.8 379.5,81.7 379.8,78.7C380.1,75.7 380.5,72.9 380.8,70.5C381.2,67.8 381.5,65.0 381.9,63.3C382.3,61.3 382.8,59.0 383.2,59.0C383.8,58.9 384.3,60.2 384.9,61.8C385.4,63.3 386.0,65.7 386.5,67.4C387.2,69.6 387.8,71.8 388.5,73.6C389.2,75.5 389.9,77.0 390.6,78.7C391.3,80.4 391.9,83.3 392.6,83.8C393.5,84.5 394.3,83.6 395.2,84.0C396.0,84.4 396.9,85.0 397.7,85.8C398.6,86.7 399.4,88.4 400.3,89.9C401.0,91.1 401.6,92.3 402.3,94.0C402.6,94.9 403.0,96.4 403.3,97.5C404.2,100.3 405.0,103.0 405.9,105.3C406.8,107.6 407.6,109.0 408.5,111.4C409.3,113.7 410.2,116.7 411.0,119.6C411.7,122.0 412.4,124.5 413.1,127.8C413.6,130.1 414.1,133.8 414.6,138.0C415.1,141.9 415.5,147.6 416.0,152.3C416.4,156.6 416.9,160.3 417.3,165.0C417.6,168.6 418.0,172.9 418.3,177.8C418.5,181.2 418.8,186.8 419.0,190.0C419.4,195.0 419.7,197.9 420.1,202.3C420.4,206.3 420.8,210.8 421.1,215.0C421.4,219.2 421.8,224.3 422.1,227.8C422.6,232.7 423.0,237.0 423.5,240.0C423.9,242.6 424.3,243.6 424.7,246.1C425.0,248.2 425.4,251.1 425.7,253.3C426.0,255.5 426.4,258.4 426.7,259.4C427.2,261.0 427.7,262.1 428.2,262.5C429.1,263.2 429.9,263.3 430.8,264.0C431.6,264.7 432.5,265.4 433.3,266.6C434.0,267.6 434.7,269.8 435.4,271.7C436.1,273.5 436.7,276.1 437.4,277.8C438.1,279.5 438.8,281.8 439.5,281.9C439.7,281.9 439.8,281.5 440.0,281.6C441.2,282.2 442.5,283.4 443.7,284.2C444.9,285.0 446.2,285.5 447.4,286.3C448.2,286.8 449.0,287.6 449.8,288.5C450.6,289.5 451.5,291.4 452.3,293.4C453.3,295.9 454.3,299.6 455.3,302.6C456.3,305.7 457.4,309.6 458.4,311.8C459.4,314.0 460.5,315.8 461.5,316.7C462.5,317.5 463.5,318.4 464.5,318.5C465.5,318.6 466.6,317.8 467.6,316.7C468.6,315.6 469.7,312.8 470.7,310.6C471.7,308.5 472.7,306.0 473.7,303.8C474.7,301.5 475.8,299.4 476.8,297.1C477.6,295.3 478.5,293.3 479.3,291.6C480.1,290.0 480.9,288.2 481.7,287.3C482.5,286.3 483.4,285.5 484.2,285.1C484.9,284.8 485.7,284.3 486.4,284.5C487.3,284.7 488.2,285.3 489.1,285.8C489.4,286.0 489.7,286.1 490.0,286.3C491.2,287.3 492.5,290.2 493.7,292.6C494.9,295.0 496.2,298.1 497.4,300.9C498.6,303.7 499.8,306.6 501.0,309.4C502.2,312.3 503.5,315.1 504.7,318.0C505.9,320.9 507.2,323.8 508.4,326.6C509.8,329.7 511.1,332.7 512.5,335.6C513.8,338.3 515.1,341.4 516.4,343.5C517.6,345.5 518.9,347.3 520.1,348.4C521.5,349.7 523.0,351.0 524.4,351.6C526.0,352.2 527.7,353.0 529.3,353.1C531.3,353.3 533.4,353.5 535.4,353.5C538.4,353.6 541.3,353.6 544.3,353.6"/>
</g>
<line x1="83" y1="427.7" x2="83" y2="435.7" stroke="#000" stroke-width="1.5"/>
<line x1="229" y1="427.7" x2="229" y2="435.7" stroke="#000" stroke-width="1.5"/>
<line x1="375.7" y1="427.7" x2="375.7" y2="435.7" stroke="#000" stroke-width="1.5"/>
<line x1="521.6" y1="427.7" x2="521.6" y2="435.7" stroke="#000" stroke-width="1.5"/>
<line x1="156.2" y1="427.7" x2="156.2" y2="431.7" stroke="#000" stroke-width="1.5"/>
<line x1="301.8" y1="427.7" x2="301.8" y2="431.7" stroke="#000" stroke-width="1.5"/>
<line x1="448.5" y1="427.7" x2="448.5" y2="431.7" stroke="#000" stroke-width="1.5"/>
<text x="83" y="452.9" font-size="16" text-anchor="middle">350</text>
<text x="229" y="452.9" font-size="16" text-anchor="middle">400</text>
<text x="375.7" y="452.9" font-size="16" text-anchor="middle">450</text>
<text x="521.5" y="452.9" font-size="16" text-anchor="middle">500</text>
<text x="301.9" y="481.6" font-size="19.75" text-anchor="middle">Wavelength [nm]</text>
<text transform="translate(18.9,184) rotate(-90)" font-size="19.7" text-anchor="middle">Intensity [arb. unit]</text>
<text class="b" x="128.6" y="44.4" font-size="15.5">GeO<tspan font-size="9.5" dy="5.5">2</tspan><tspan dy="-5.5">:TiO</tspan><tspan font-size="9.5" dy="5.5">2</tspan></text>
<line x1="130" y1="77.4" x2="172.5" y2="77.4" stroke="#808080" stroke-width="2.8" stroke-linecap="round"/>
<text class="b" x="176.4" y="83.1" font-size="12.7">5:1</text>
<line x1="130" y1="100.6" x2="172.5" y2="100.6" stroke="#9c0090" stroke-width="2.8" stroke-linecap="round"/>
<text class="b" x="176.4" y="106.3" font-size="12.7">2:1</text>
<line x1="130" y1="123.9" x2="172.5" y2="123.9" stroke="#0000b4" stroke-width="2.8" stroke-linecap="round"/>
<text class="b" x="176.4" y="129.6" font-size="12.7">1:1</text>
<line x1="130" y1="147.3" x2="172.5" y2="147.3" stroke="#008200" stroke-width="2.8" stroke-linecap="round"/>
<text class="b" x="176.4" y="153.0" font-size="12.7">1:2</text>
<line x1="130" y1="170.5" x2="172.5" y2="170.5" stroke="#ff8000" stroke-width="2.8" stroke-linecap="round"/>
<text class="b" x="176.4" y="176.2" font-size="12.7">1:3</text>
<line x1="130" y1="193.9" x2="172.5" y2="193.9" stroke="#960000" stroke-width="2.8" stroke-linecap="round"/>
<text class="b" x="176.4" y="199.6" font-size="12.7">1:5</text>
<text class="b" x="80.6" y="277.6" font-size="11.4">5</text>
<text class="b" x="87.5" y="286.8" font-size="19.6">I</text>
<text class="b" x="92.5" y="293.90000000000003" font-size="11.4">8</text>
<text class="ar" x="102" y="290.1" font-size="24">→</text>
<text class="b" x="125" y="277.6" font-size="11.4">3</text>
<text class="b" x="131" y="286.8" font-size="19.6">H</text>
<text class="b" x="145" y="293.90000000000003" font-size="11.4">5</text>
<text class="b" x="151.5" y="286.8" font-size="19.6">,</text>
<text class="b" x="157.5" y="277.6" font-size="11.4">3</text>
<text class="b" x="163.6" y="286.8" font-size="19.6">H</text>
<text class="b" x="177.6" y="293.90000000000003" font-size="11.4">6</text>
<text class="b" x="159.7" y="323.40000000000003" font-size="11.4">5</text>
<text class="b" x="165.4" y="332.6" font-size="19.6">I</text>
<text class="b" x="170.5" y="339.70000000000005" font-size="11.4">8</text>
<text class="ar" x="180" y="335.90000000000003" font-size="24">→</text>
<text class="b" x="203" y="323.40000000000003" font-size="11.4">5</text>
<text class="b" x="209" y="332.6" font-size="19.6">G</text>
<text class="b" x="224.8" y="339.70000000000005" font-size="11.4">4</text>
<text class="b" x="259.8" y="243.20000000000002" font-size="11.4">5</text>
<text class="b" x="265.7" y="252.4" font-size="19.6">I</text>
<text class="b" x="270.7" y="259.5" font-size="11.4">8</text>
<text class="ar" x="280.5" y="255.70000000000002" font-size="24">→</text>
<text class="b" x="303.4" y="243.20000000000002" font-size="11.4">5</text>
<text class="b" x="310" y="252.4" font-size="19.6">G</text>
<text class="b" x="324.7" y="259.5" font-size="11.4">5</text>
<text class="b" x="341.2" y="37.599999999999994" font-size="11.4">5</text>
<text class="b" x="347.6" y="46.8" font-size="19.6">I</text>
<text class="b" x="352.7" y="53.9" font-size="11.4">8</text>
<text class="ar" x="362.4" y="50.099999999999994" font-size="24">→</text>
<text class="b" x="385.5" y="37.599999999999994" font-size="11.4">5</text>
<text class="b" x="391.7" y="46.8" font-size="19.6">G</text>
<text class="b" x="406.6" y="53.9" font-size="11.4">6</text>
<text class="b" x="412.7" y="46.8" font-size="19.6">,</text>
<text class="b" x="418.2" y="37.599999999999994" font-size="11.4">5</text>
<text class="b" x="424.3" y="46.8" font-size="19.6">F</text>
<text class="b" x="437" y="53.9" font-size="11.4">1</text>
<text class="b" x="436.8" y="241.3" font-size="11.4">5</text>
<text class="b" x="443" y="250.5" font-size="19.6">I</text>
<text class="b" x="448.3" y="257.6" font-size="11.4">8</text>
<text class="ar" x="457.6" y="253.8" font-size="24">→</text>
<text class="b" x="480.6" y="241.3" font-size="11.4">5</text>
<text class="b" x="486.7" y="250.5" font-size="19.6">F</text>
<text class="b" x="499.2" y="257.6" font-size="11.4">2</text>
<text class="b" x="505.2" y="250.5" font-size="19.6">,</text>
<text class="b" x="510.5" y="241.3" font-size="11.4">5</text>
<text class="b" x="516.6" y="250.5" font-size="19.6">F</text>
<text class="b" x="529.1" y="257.6" font-size="11.4">3</text>
</svg></body></html>
